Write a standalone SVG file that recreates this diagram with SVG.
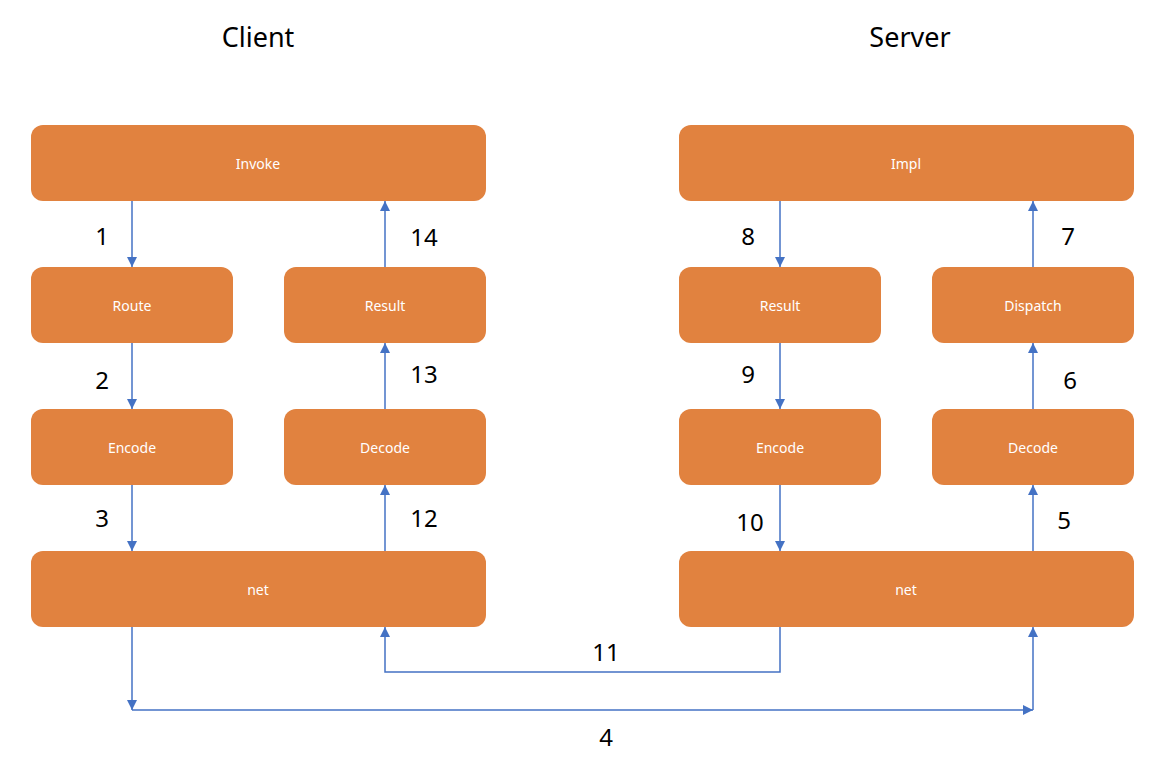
<svg xmlns="http://www.w3.org/2000/svg" width="1172" height="770" viewBox="0 0 1172 770">
<style>
.box{fill:#E1823F}
.bt{font-family:"Noto Sans","Liberation Sans",sans-serif;font-size:14px;fill:#FFFFFF;text-anchor:middle;dominant-baseline:central}
.num{font-family:"Noto Sans","Liberation Sans",sans-serif;font-size:24px;fill:#000000;text-anchor:middle;dominant-baseline:central}
.title{font-family:"Noto Sans","Liberation Sans",sans-serif;font-size:27px;fill:#000000;text-anchor:middle;dominant-baseline:central}
.ln{fill:none;stroke:#4472C4;stroke-width:1.5}
</style>
<defs>
<marker id="ah" viewBox="0 0 10 10" refX="10" refY="5" markerWidth="10" markerHeight="10" markerUnits="userSpaceOnUse" orient="auto">
<path d="M0,0 L10,5 L0,10 Z" fill="#4472C4"/>
</marker>
</defs>
<rect width="1172" height="770" fill="#FFFFFF"/>
<text class="title" x="258" y="36">Client</text>
<text class="title" x="910" y="36">Server</text>
<g id="c-invoke"><rect class="box" x="31" y="125" width="455" height="76" rx="12"/><text class="bt" x="258" y="163">Invoke</text></g>
<g id="c-route"><rect class="box" x="31" y="267" width="202" height="76" rx="12"/><text class="bt" x="132" y="305">Route</text></g>
<g id="c-result"><rect class="box" x="284" y="267" width="202" height="76" rx="12"/><text class="bt" x="385" y="305">Result</text></g>
<g id="c-encode"><rect class="box" x="31" y="409" width="202" height="76" rx="12"/><text class="bt" x="132" y="447">Encode</text></g>
<g id="c-decode"><rect class="box" x="284" y="409" width="202" height="76" rx="12"/><text class="bt" x="385" y="447">Decode</text></g>
<g id="c-net"><rect class="box" x="31" y="551" width="455" height="76" rx="12"/><text class="bt" x="258" y="589">net</text></g>
<g id="s-impl"><rect class="box" x="679" y="125" width="455" height="76" rx="12"/><text class="bt" x="906" y="163">Impl</text></g>
<g id="s-result"><rect class="box" x="679" y="267" width="202" height="76" rx="12"/><text class="bt" x="780" y="305">Result</text></g>
<g id="s-dispatch"><rect class="box" x="932" y="267" width="202" height="76" rx="12"/><text class="bt" x="1033" y="305">Dispatch</text></g>
<g id="s-encode"><rect class="box" x="679" y="409" width="202" height="76" rx="12"/><text class="bt" x="780" y="447">Encode</text></g>
<g id="s-decode"><rect class="box" x="932" y="409" width="202" height="76" rx="12"/><text class="bt" x="1033" y="447">Decode</text></g>
<g id="s-net"><rect class="box" x="679" y="551" width="455" height="76" rx="12"/><text class="bt" x="906" y="589">net</text></g>
<g id="connectors">
<line class="ln" x1="132" y1="201" x2="132" y2="267" marker-end="url(#ah)"/>
<line class="ln" x1="132" y1="343" x2="132" y2="409" marker-end="url(#ah)"/>
<line class="ln" x1="132" y1="485" x2="132" y2="551" marker-end="url(#ah)"/>
<line class="ln" x1="132" y1="627" x2="132" y2="710" marker-end="url(#ah)"/>
<line class="ln" x1="132" y1="710" x2="1033" y2="710" marker-end="url(#ah)"/>
<line class="ln" x1="1033" y1="710" x2="1033" y2="627" marker-end="url(#ah)"/>
<line class="ln" x1="1033" y1="551" x2="1033" y2="485" marker-end="url(#ah)"/>
<line class="ln" x1="1033" y1="409" x2="1033" y2="343" marker-end="url(#ah)"/>
<line class="ln" x1="1033" y1="267" x2="1033" y2="201" marker-end="url(#ah)"/>
<line class="ln" x1="780" y1="201" x2="780" y2="267" marker-end="url(#ah)"/>
<line class="ln" x1="780" y1="343" x2="780" y2="409" marker-end="url(#ah)"/>
<line class="ln" x1="780" y1="485" x2="780" y2="551" marker-end="url(#ah)"/>
<polyline class="ln" points="780,627 780,672 385,672 385,627" marker-end="url(#ah)"/>
<line class="ln" x1="385" y1="551" x2="385" y2="485" marker-end="url(#ah)"/>
<line class="ln" x1="385" y1="409" x2="385" y2="343" marker-end="url(#ah)"/>
<line class="ln" x1="385" y1="267" x2="385" y2="201" marker-end="url(#ah)"/>
</g>
<text class="num" x="102" y="235">1</text>
<text class="num" x="102" y="379">2</text>
<text class="num" x="102" y="517">3</text>
<text class="num" x="606" y="736">4</text>
<text class="num" x="1064" y="519">5</text>
<text class="num" x="1070" y="379">6</text>
<text class="num" x="1068" y="235">7</text>
<text class="num" x="748" y="235">8</text>
<text class="num" x="748" y="373">9</text>
<text class="num" x="750" y="521">10</text>
<text class="num" x="606" y="651">11</text>
<text class="num" x="424" y="517">12</text>
<text class="num" x="424" y="373">13</text>
<text class="num" x="424" y="236">14</text>
</svg>
